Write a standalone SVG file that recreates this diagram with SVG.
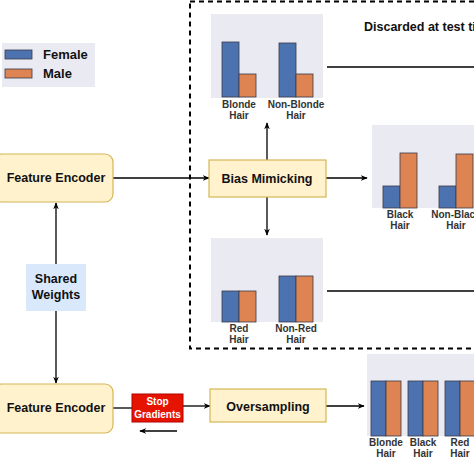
<svg xmlns="http://www.w3.org/2000/svg" width="474" height="474" viewBox="0 0 474 474">
<defs>
<style>
text{font-family:"Liberation Sans",Arial,sans-serif;font-weight:bold;fill:#111}
.node{fill:#fff2cc;stroke:#d6b656;stroke-width:1.2}
.bg{fill:#eaeaf2}
.f{fill:#4c72b0;stroke:#3a3a4a;stroke-width:0.8}
.m{fill:#dd8452;stroke:#3a3a4a;stroke-width:0.8}
.lbl{font-size:10px;fill:#333;text-anchor:middle}
.t{font-size:12.5px;text-anchor:middle}
.ln{stroke:#000;stroke-width:1.3;fill:none}
</style>
<marker id="ah" viewBox="0 0 10 10" refX="9" refY="5" markerWidth="7" markerHeight="7" orient="auto-start-reverse" markerUnits="userSpaceOnUse">
<path d="M0,1 L10,5 L0,9 L3,5 Z" fill="#000"/>
</marker>
</defs>
<rect width="474" height="474" fill="#fff"/>

<g id="legend">
<rect x="2" y="43" width="93" height="44" class="bg"/>
<rect x="5" y="50" width="27" height="9" class="f"/>
<rect x="5" y="69" width="27" height="9" class="m"/>
<text x="43" y="59" font-size="13" fill="#222">Female</text>
<text x="43" y="78" font-size="13" fill="#222">Male</text>
</g>

<g id="discarded-region">
<rect x="190" y="1.5" width="300" height="347" fill="none" stroke="#000" stroke-width="2" stroke-dasharray="5,4"/>
<text x="364" y="31" font-size="12.5">Discarded at test time</text>
</g>

<g id="chart-blonde">
<rect x="211" y="14" width="112" height="84" class="bg"/>
<rect x="222" y="42" width="17" height="55" class="f"/>
<rect x="239" y="74" width="17" height="23" class="m"/>
<rect x="279" y="43" width="17" height="54" class="f"/>
<rect x="296" y="74" width="17" height="23" class="m"/>
<text class="lbl" x="239" y="108">Blonde</text>
<text class="lbl" x="239" y="119">Hair</text>
<text class="lbl" x="296" y="108">Non-Blonde</text>
<text class="lbl" x="296" y="119">Hair</text>
</g>

<g id="chart-black">
<rect x="372" y="125" width="110" height="83" class="bg"/>
<rect x="383" y="186" width="17" height="22" class="f"/>
<rect x="400" y="153" width="17" height="55" class="m"/>
<rect x="439" y="186" width="17" height="22" class="f"/>
<rect x="456" y="154" width="17" height="54" class="m"/>
<text class="lbl" x="400" y="218">Black</text>
<text class="lbl" x="400" y="229">Hair</text>
<text class="lbl" x="456" y="218">Non-Black</text>
<text class="lbl" x="456" y="229">Hair</text>
</g>

<g id="chart-red">
<rect x="211" y="238" width="112" height="84" class="bg"/>
<rect x="222" y="291" width="17" height="31" class="f"/>
<rect x="239" y="291" width="17" height="31" class="m"/>
<rect x="279" y="276" width="17" height="46" class="f"/>
<rect x="296" y="276" width="17" height="46" class="m"/>
<text class="lbl" x="239" y="332">Red</text>
<text class="lbl" x="239" y="343">Hair</text>
<text class="lbl" x="296" y="332">Non-Red</text>
<text class="lbl" x="296" y="343">Hair</text>
</g>

<g id="chart-oversampled">
<rect x="367" y="354" width="115" height="82" class="bg"/>
<rect x="371" y="381" width="15" height="55" class="f"/>
<rect x="386" y="381" width="15" height="55" class="m"/>
<rect x="408" y="381" width="15" height="55" class="f"/>
<rect x="423" y="381" width="15" height="55" class="m"/>
<rect x="445" y="381" width="15" height="55" class="f"/>
<rect x="460" y="381" width="15" height="55" class="m"/>
<text class="lbl" x="386" y="446">Blonde</text>
<text class="lbl" x="386" y="457">Hair</text>
<text class="lbl" x="423" y="446">Black</text>
<text class="lbl" x="423" y="457">Hair</text>
<text class="lbl" x="460" y="446">Red</text>
<text class="lbl" x="460" y="457">Hair</text>
</g>

<g id="connectors">
<line class="ln" x1="113" y1="178" x2="209" y2="178" marker-end="url(#ah)"/>
<line class="ln" x1="267" y1="160" x2="267" y2="123" marker-end="url(#ah)"/>
<line class="ln" x1="267" y1="197" x2="267" y2="235" marker-end="url(#ah)"/>
<line class="ln" x1="326" y1="178" x2="367" y2="178" marker-end="url(#ah)"/>
<line class="ln" x1="327" y1="67" x2="474" y2="67"/>
<line class="ln" x1="327" y1="291" x2="474" y2="291"/>
<line class="ln" x1="56" y1="264" x2="56" y2="203" marker-end="url(#ah)"/>
<line class="ln" x1="56" y1="311" x2="56" y2="383" marker-end="url(#ah)"/>
<line class="ln" x1="113" y1="408" x2="132" y2="408"/>
<line class="ln" x1="183" y1="406" x2="210" y2="406" marker-end="url(#ah)"/>
<line class="ln" x1="177" y1="431" x2="140" y2="431" marker-end="url(#ah)"/>
<line class="ln" x1="326" y1="406" x2="364" y2="406" marker-end="url(#ah)"/>
</g>

<g id="feature-encoder-top">
<rect x="-6" y="154" width="119" height="48" rx="8" class="node"/>
<text class="t" x="56" y="182">Feature Encoder</text>
</g>

<g id="bias-mimicking">
<rect x="209" y="160" width="117" height="37" class="node"/>
<text class="t" x="267" y="183">Bias Mimicking</text>
</g>

<g id="shared-weights">
<rect x="26" y="264" width="60" height="47" fill="#dae8fc"/>
<text class="t" x="56" y="283">Shared</text>
<text class="t" x="56" y="299">Weights</text>
</g>

<g id="feature-encoder-bottom">
<rect x="-6" y="384" width="119" height="49" rx="8" class="node"/>
<text class="t" x="56" y="412">Feature Encoder</text>
</g>

<g id="stop-gradients">
<rect x="132" y="394" width="51" height="28" fill="#e51400" stroke="#b20000" stroke-width="1"/>
<text x="157.5" y="405" font-size="10" text-anchor="middle" fill="#fff" style="fill:#fff">Stop</text>
<text x="157.5" y="418" font-size="10" text-anchor="middle" fill="#fff" style="fill:#fff">Gradients</text>
</g>

<g id="oversampling">
<rect x="210" y="389" width="116" height="33" class="node"/>
<text class="t" x="268" y="411">Oversampling</text>
</g>
</svg>
